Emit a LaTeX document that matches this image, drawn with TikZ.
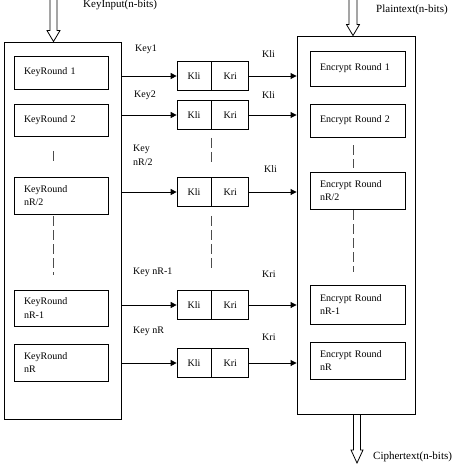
\documentclass[tikz,border=0pt]{standalone}
\usepackage{fontspec}
\setmainfont{Liberation Serif}
\usetikzlibrary{arrows.meta,calc,shadows}
\begin{document}
\begin{tikzpicture}[x=1pt,y=-1pt,
  bigbox/.style={draw, line width=0.9pt, fill=white, inner sep=0pt,
    drop shadow={shadow xshift=1.3pt, shadow yshift=-1.3pt, fill=black!65, opacity=1}},
  roundbox/.style={draw, line width=0.7pt, fill=white, align=left,
    inner xsep=10pt, inner ysep=0pt,
    font=\fontsize{10}{13.5}\selectfont,
    drop shadow={shadow xshift=0.8pt, shadow yshift=-0.8pt, fill=black!45, opacity=1}},
  krbox/.style={roundbox, text width=74pt, minimum width=94pt},
  erbox/.style={roundbox, text width=75pt, minimum width=95pt},
  keybox/.style={draw, line width=0.7pt, minimum height=29pt, inner sep=0pt,
    font=\fontsize{10}{12}\selectfont},
  arr/.style={-{Triangle[length=6pt,width=6pt]}, line width=0.9pt},
  lbl/.style={anchor=west, inner sep=0pt, align=left, font=\fontsize{10}{14}\selectfont},
  iolbl/.style={anchor=west, inner sep=0pt, font=\fontsize{11}{13}\selectfont},
  dashline/.style={dash pattern=on 10pt off 4pt, line width=0.6pt, draw=black!70},
  hollow/.style={line width=0.8pt, line join=miter}
]
\useasboundingbox (0,0) rectangle (474,474);

% big boxes
\node[bigbox, minimum width=117pt, minimum height=377pt] (L) at (62.5,230.5) {};
\node[bigbox, minimum width=118pt, minimum height=378pt] (R) at (356,225) {};

% key rounds
\node[krbox, minimum height=33pt] (kr1) at (61,72.5) {KeyRound 1};
\node[krbox, minimum height=32pt] (kr2) at (61,120.5) {KeyRound 2};
\node[krbox, minimum height=37pt] (krh) at (61,195.5) {KeyRound\\nR/2};
\node[krbox, minimum height=36pt] (krm1) at (61,308) {KeyRound\\nR-1};
\node[krbox, minimum height=37pt] (krn) at (61,362.5) {KeyRound\\nR};

% encrypt rounds
\node[erbox, minimum height=35pt] (er1) at (357.5,68.5) {Encrypt Round 1};
\node[erbox, minimum height=33pt] (er2) at (357.5,120.5) {Encrypt Round 2};
\node[erbox, minimum height=37pt] (erh) at (357.5,190.5) {Encrypt Round\\nR/2};
\node[erbox, minimum height=39pt] (erm1) at (357.5,304.5) {Encrypt Round\\nR-1};
\node[erbox, minimum height=37pt] (ern) at (357.5,360.5) {Encrypt Round\\nR};

% Kli / Kri boxes
\foreach \n/\y in {1/76, 2/115, h/192, m1/305, n/363}{
  \node[keybox, minimum width=34pt] (kl\n) at (194,\y) {Kli};
  \node[keybox, minimum width=37pt, anchor=west] (kk\n) at (kl\n.east) {Kri};
  \draw[arr] (L.east |- kl\n.west) -- (kl\n.west);
  \draw[arr] (kk\n.east) -- (R.west |- kk\n.east);
}

% labels on the key arrows
\node[lbl] (lk1) at (135,49) {Key1};
\node[lbl] (lk2) at (134,95) {Key2};
\node[lbl] (lkh) at (133,155) {Key\\nR/2};
\node[lbl] (lkm1) at (133,272) {Key nR-1};
\node[lbl] (lkn) at (133,331) {Key nR};

\node[lbl] (lr1) at (262,54) {Kli};
\node[lbl] (lr2) at (262,95) {Kli};
\node[lbl] (lrh) at (264,169) {Kli};
\node[lbl] (lrm1) at (262,274) {Kri};
\node[lbl] (lrn) at (262,337) {Kri};

% input / output arrows
\coordinate (inL) at (53.5,0);
\coordinate (inR) at (353,0);
\coordinate (outR) at (357,463);

\draw[hollow] let \p1=(inL), \p2=(inL |- L.north) in
  (\x1-3.5pt,\y1) -- (\x1-3.5pt,\y2+11pt) -- (\x1-6.5pt,\y2+11pt) -- (\x2,\y2)
  -- (\x1+6.5pt,\y2+11pt) -- (\x1+3.5pt,\y2+11pt) -- (\x1+3.5pt,\y1);
\draw[hollow] let \p1=(inR), \p2=(inR |- R.north) in
  (\x1-4pt,\y1) -- (\x1-4pt,\y2+11pt) -- (\x1-6.5pt,\y2+11pt) -- (\x2,\y2)
  -- (\x1+6.5pt,\y2+11pt) -- (\x1+4pt,\y2+11pt) -- (\x1+4pt,\y1);
\draw[hollow] let \p1=(outR |- R.south), \p2=(outR) in
  (\x1-3.5pt,\y1) -- (\x1-3.5pt,\y2+13pt) -- (\x1-6pt,\y2+13pt) -- (\x2,\y2)
  -- (\x1+6pt,\y2+13pt) -- (\x1+3.5pt,\y2+13pt) -- (\x1+3.5pt,\y1);

\node[iolbl] (tin) at (83,5) {KeyInput(n-bits)};
\node[iolbl] (tpl) at (376,10) {Plaintext(n-bits)};
\node[iolbl] (tct) at (373,457) {Ciphertext(n-bits)};

% dashed continuation lines
\draw[dashline] ($(kr2.south -| inL)+(0,14)$) -- ($(krh.north -| inL)+(0,-12)$);
\draw[dashline] ($(krh.south -| inL)+(0,2)$) -- ($(krm1.north -| inL)+(0,-15)$);
\draw[dashline] ($(kl2.south east)+(0,8)$) -- ($(klh.north east)+(0,-12)$);
\draw[dashline] ($(klh.south east)+(0,9)$) -- ($(klm1.north east)+(0,-20)$);
\draw[dashline] ($(er2.south -| inR)+(0,8)$) -- ($(erh.north -| inR)+(0,-4)$);
\draw[dashline] ($(erh.south -| inR)+(0,1)$) -- ($(erm1.north -| inR)+(0,-13)$);
\end{tikzpicture}
\end{document}
